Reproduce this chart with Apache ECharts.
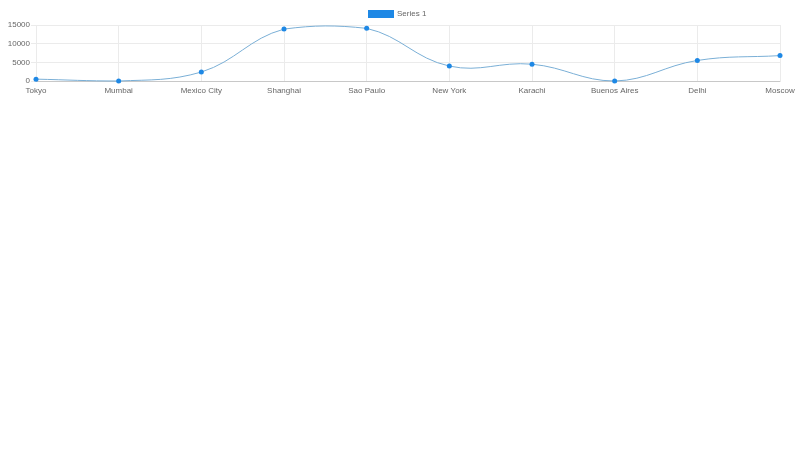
<!DOCTYPE html>
<html>
<head>
<meta charset="utf-8">
<script src="https://cdn.jsdelivr.net/npm/echarts@6/dist/echarts.min.js"></script>
<style>html,body{margin:0;padding:0;background:#fff}#c{width:800px;height:450px}</style>
</head>
<body>
<div id="c"></div>
<script>
const categories = ['Tokyo','Mumbai','Mexico City','Shanghai','Sao Paulo','New York','Karachi','Buenos Aires','Delhi','Moscow'];
const series1 = [500, 0, 2400, 13900, 14100, 4000, 4500, 0, 5500, 6800];
const yTicks = [0, 5000, 10000, 15000];

const TENSION = 0.4;

function clampPt(p, cs) {
  return [
    Math.min(Math.max(p[0], cs.x), cs.x + cs.width),
    Math.min(Math.max(p[1], cs.y), cs.y + cs.height)
  ];
}

function controlPoints(api, i, cs) {
  const n = series1.length;
  const cur = api.coord([i, series1[i]]);
  const prev = i > 0 ? api.coord([i - 1, series1[i - 1]]) : cur;
  const next = i < n - 1 ? api.coord([i + 1, series1[i + 1]]) : cur;
  const d01 = Math.hypot(cur[0] - prev[0], cur[1] - prev[1]);
  const d12 = Math.hypot(next[0] - cur[0], next[1] - cur[1]);
  const s01 = d01 / (d01 + d12 || 1);
  const s12 = d12 / (d01 + d12 || 1);
  const fa = TENSION * s01, fb = TENSION * s12;
  return {
    pt: cur,
    prevCP: clampPt([cur[0] - fa * (next[0] - prev[0]), cur[1] - fa * (next[1] - prev[1])], cs),
    nextCP: clampPt([cur[0] + fb * (next[0] - prev[0]), cur[1] + fb * (next[1] - prev[1])], cs)
  };
}

const chart = echarts.init(document.getElementById('c'), null, {renderer: 'canvas'});
chart.setOption({
  animation: false,
  textStyle: {fontFamily: 'Liberation Sans, Arial, sans-serif'},
  legend: {
    top: 10,
    left: 368,
    itemWidth: 26,
    itemHeight: 8,
    itemGap: 4,
    icon: 'rect',
    padding: 0,
    textStyle: {fontSize: 8, color: '#666', padding: [0, 0, 0, -2]},
    data: ['Series 1']
  },
  grid: {left: 36, right: 20, top: 25, bottom: 369, containLabel: false},
  xAxis: {
    type: 'category',
    data: categories,
    boundaryGap: false,
    axisLine: {lineStyle: {color: '#c8c8c8', width: 1}},
    axisTick: {show: false},
    axisLabel: {fontSize: 8, color: '#666', margin: 6},
    splitLine: {show: true, lineStyle: {color: '#ebebeb', width: 1}}
  },
  yAxis: {
    type: 'value',
    min: yTicks[0],
    max: yTicks[yTicks.length - 1],
    interval: 5000,
    axisLine: {show: false},
    axisTick: {show: true, length: 5, lineStyle: {color: '#ebebeb'}},
    axisLabel: {fontSize: 8, color: '#666', margin: 6, formatter: function (v) { return String(v); }},
    splitLine: {show: true, lineStyle: {color: '#ebebeb', width: 1}}
  },
  series: [{
    name: 'curve',
    type: 'custom',
    z: 1,
    silent: true,
    data: series1.map(function (v, i) { return [i, v]; }),
    renderItem: function (params, api) {
      const i = params.dataIndex;
      if (i >= series1.length - 1) return null;
      const cs = params.coordSys;
      const a = controlPoints(api, i, cs);
      const b = controlPoints(api, i + 1, cs);
      return {
        type: 'bezierCurve',
        shape: {
          x1: a.pt[0], y1: a.pt[1],
          cpx1: a.nextCP[0], cpy1: a.nextCP[1],
          cpx2: b.prevCP[0], cpy2: b.prevCP[1],
          x2: b.pt[0], y2: b.pt[1]
        },
        style: {stroke: '#7aafd6', lineWidth: 1, fill: null}
      };
    }
  }, {
    name: 'Series 1',
    type: 'line',
    z: 2,
    data: series1,
    symbol: 'circle',
    symbolSize: 5,
    itemStyle: {color: '#1E88E5'},
    lineStyle: {width: 0, opacity: 0}
  }]
});
</script>
</body>
</html>
